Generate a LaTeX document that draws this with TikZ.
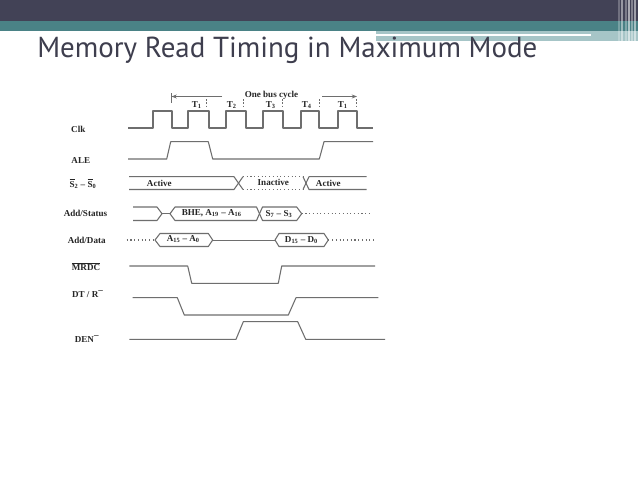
\documentclass[tikz,border=0pt]{standalone}
\usepackage{fontspec}
\setmainfont{Liberation Serif}
\newfontfamily\titlefont{PT Sans}
\usetikzlibrary{arrows.meta}
\definecolor{darkband}{HTML}{424256}
\definecolor{tealband}{HTML}{4A8286}
\definecolor{lightband}{HTML}{A6C5C7}
\definecolor{titlecol}{HTML}{3E3E4E}
\definecolor{sig}{HTML}{6E6E6E}
\definecolor{txt}{HTML}{262626}
\newcommand\ovl[1]{\ensuremath{\overline{\hbox{#1}}}}
\begin{document}
\begin{tikzpicture}[x=0.75pt,y=-0.75pt,
  sigline/.style={draw=sig,line width=0.8pt,line join=round},
  dotline/.style={draw=sig,line width=0.8pt,dotted},
  tickline/.style={draw=sig,line width=0.6pt,dash pattern=on 1.5pt off 1pt},
  lbl/.style={font=\bfseries\fontsize{6.8}{7}\selectfont,text=txt,inner sep=0pt},
  bustxt/.style={font=\bfseries\fontsize{6.8}{7}\selectfont,text=txt,inner sep=0pt},
  tlbl/.style={font=\bfseries\fontsize{6.8}{7}\selectfont,text=txt,inner sep=0pt}]
\useasboundingbox (0,0) rectangle (638,479);
\fill[white] (0,0) rectangle (638,479);
% header
\fill[darkband] (0,0) rectangle (638,21);
\fill[tealband] (0,21) rectangle (638,31);
\fill[lightband] (376,31) rectangle (638,41);
\fill[white] (376,34) rectangle (591,36);
\foreach \x/\o in {618/0.25,621/0.45,625/0.3,628/0.55,631/0.35,634/0.5}
  \fill[white,opacity=\o] (\x,0) rectangle ++(2,43);
\node[anchor=base west,font=\titlefont\fontsize{21.7}{26}\selectfont,text=titlecol,inner sep=0pt] (title) at (37,57) {Memory Read Timing in Maximum Mode};
% bus cycle annotation
\node[tlbl] (obc) at (271.5,95) {One bus cycle};
\coordinate (arL) at (171.5,96.5);
\coordinate (arLs) at (222,96.5);
\coordinate (arRs) at (322,96.5);
\coordinate (arR) at (357,96.5);
\draw[sig,line width=0.6pt,-{Stealth[length=4pt,width=3pt]}] (arLs) -- (arL);
\draw[sig,line width=0.6pt,-{Stealth[length=4pt,width=3pt]}] (arRs) -- (arR);
\draw[sig,line width=0.8pt] (171.5,93) -- (171.5,103);
\foreach \x in {206,243.5,282,319,356}
  \draw[tickline] (\x,99) -- (\x,106);
\node[tlbl] (t1) at (196.7,105) {T\textsubscript{1}};
\node[tlbl] (t2) at (231.7,105) {T\textsubscript{2}};
\node[tlbl] (t3) at (270.7,105) {T\textsubscript{3}};
\node[tlbl] (t4) at (306.7,105) {T\textsubscript{4}};
\node[tlbl] (t5) at (342.7,105) {T\textsubscript{1}};
% labels
\node[lbl] (lclk) at (78.3,129) {Clk};
\node[lbl] (lale) at (80.8,160.5) {ALE};
\node[lbl] (ls) at (83,183.5) {\ovl{S}\textsubscript{2} – \ovl{S}\textsubscript{0}};
\node[lbl] (las) at (85.5,213.5) {Add/Status};
\node[lbl] (lad) at (86.7,240) {Add/Data};
\node[lbl] (lmr) at (86,266.5) {\ovl{MRDC}};
\node[lbl] (ldt) at (87.5,294.5) {DT / R¯};
\node[lbl] (lden) at (86.7,339) {DEN¯};
% Clk
\draw[sigline] (128,128) -- (153,128) -- (153,111) -- (172,111) -- (172,128) -- (188,128) -- (188,111) -- (209,111) -- (209,128) -- (226,128) -- (226,111) -- (246,111) -- (246,128) -- (263,128) -- (263,111) -- (283,111) -- (283,128) -- (301,128) -- (301,111) -- (319,111) -- (319,128) -- (338,128) -- (338,111) -- (357,111) -- (357,128) -- (373,128);
% ALE
\draw[sigline] (128,159) -- (166.7,159) -- (170.7,141.7) -- (208.3,141.7) -- (212.7,159) -- (319.3,159) -- (324,141.7) -- (373,141.7);
% S2-S0
\draw[sigline] (129,176.7) -- (234,176.7) -- (243,189.5);
\draw[sigline] (129,189.5) -- (234,189.5) -- (243,176.7);
\draw[dotline] (243,176.7) -- (303,176.7);
\draw[dotline] (243,189.5) -- (303,189.5);
\draw[sigline] (303,176.7) -- (309,189.5) -- (366.7,189.5);
\draw[sigline] (303,189.5) -- (309,176.7) -- (366.7,176.7);
\node[bustxt] (act1) at (159.3,183.5) {Active};
\node[bustxt] (inact) at (273.3,182) {Inactive};
\node[bustxt] (act2) at (328.3,183.5) {Active};
% Add/Status
\draw[sigline] (133,207) -- (157,207) -- (162,213.7) -- (157,220.5) -- (133,220.5);
\draw[sig,line width=0.6pt] (162,213.7) -- (170,213.7);
\draw[sigline] (170,213.7) -- (175,207) -- (256.5,207) -- (259.5,213.7) -- (256.5,220.5) -- (175,220.5) -- cycle;
\draw[sigline] (259.5,213.7) -- (262.5,207) -- (296.7,207) -- (301.7,213.7) -- (296.7,220.5) -- (262.5,220.5) -- cycle;
\draw[dotline] (301.7,213.7) -- (371.7,213.7);
\node[bustxt] (bhe) at (211.7,213.3) {BHE, A\textsubscript{19} – A\textsubscript{16}};
\node[bustxt] (s73) at (279,213.7) {S\textsubscript{7} – S\textsubscript{3}};
% Add/Data
\draw[dotline] (126.7,240) -- (155,240);
\draw[sigline] (155,240) -- (160,233.5) -- (208.3,233.5) -- (212.7,240) -- (208.3,246.5) -- (160,246.5) -- cycle;
\draw[sig,line width=0.6pt] (212.7,240) -- (275,240);
\draw[sigline] (275,240) -- (279,233.5) -- (324,233.5) -- (328.3,240) -- (324,246.5) -- (279,246.5) -- cycle;
\draw[dotline] (328.3,240) -- (375,240);
\node[bustxt] (a150) at (183.3,238.7) {A\textsubscript{15} – A\textsubscript{0}};
\node[bustxt] (d150) at (301.5,240.3) {D\textsubscript{15} – D\textsubscript{0}};
% MRDC
\draw[sigline] (129.3,266) -- (187.7,266) -- (191.7,283.3) -- (278.3,283.3) -- (281.7,266) -- (375,266);
% DT/R
\draw[sigline] (132.7,297.7) -- (177.3,297.7) -- (184.3,315) -- (288.3,315) -- (296,297.7) -- (378.3,297.7);
% DEN
\draw[sigline] (129.3,339.3) -- (236,339.3) -- (243.3,321.7) -- (297.7,321.7) -- (305.7,339.3) -- (385,339.3);
\end{tikzpicture}
\end{document}
